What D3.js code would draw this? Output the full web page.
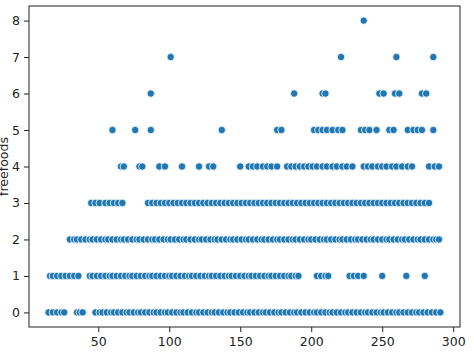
<!DOCTYPE html>
<html>
<head>
<meta charset="utf-8">
<script src="https://cdn.jsdelivr.net/npm/d3@7"></script>
<style>
  body { margin: 0; background: #fff; }
  svg { display: block; font-family: "DejaVu Sans", sans-serif; }
</style>
</head>
<body>
<div class="scatter-plot"></div>
<script>
// x values, one array per freefoods level
const level0X = [15, 18, 21, 24, 26, 35, 37, 39,
  48, 51, 53, 56, 59, 61, 64, 67, 70, 72, 75, 78, 80, 83, 86, 89, 91, 94, 97, 99, 102, 105, 108, 110,
  113, 116, 119, 121, 124, 127, 130, 132, 135, 138, 141, 143, 146, 149, 152, 155, 157, 160, 163, 166,
  168, 171, 174, 177, 179, 182, 185, 188, 190, 193, 196, 199, 202, 204, 207, 210, 213, 215, 218, 221,
  224, 226, 229, 232, 235, 238, 240, 243, 246, 249, 251, 254, 257, 260, 262, 265, 268, 271, 274, 276,
  279, 282, 285, 288, 291]
const level1X = [16, 18, 21, 24, 27, 30, 33, 36,
  44, 46, 49, 52, 55, 58, 60, 63, 66, 69, 72, 74, 77, 80, 83, 86, 88, 91, 94, 97, 100, 102, 105, 108,
  111, 114, 116, 119, 122, 125, 128, 130, 133, 136, 139, 142, 144, 147, 150, 153, 156, 158, 161, 164,
  167, 170, 172, 175, 178, 181, 184, 186, 189, 191,
  204, 207, 210, 212, 227, 230, 233, 237, 250, 267, 280]
const level2X = [30, 33, 35, 38, 41, 44, 46, 49, 52, 55, 57, 60, 63, 66, 68, 71, 74, 77, 79, 82, 85, 88,
  90, 93, 96, 99, 101, 104, 107, 110, 112, 115, 118, 121, 123, 126, 129, 132, 134, 137, 140, 143, 145,
  148, 151, 154, 156, 159, 162, 165, 167, 170, 173, 176, 178, 181, 184, 187, 189, 192, 195, 198, 200,
  203, 206, 209, 211, 214, 217, 220, 222, 225, 228, 231, 233, 236, 239, 242, 244, 247, 250, 253, 255,
  258, 261, 264, 266, 269, 272, 275, 277, 280, 283, 286, 288, 290]
const level3X = [45, 48, 51, 55, 58, 61, 64, 67,
  85, 88, 91, 94, 97, 100, 103, 106, 109, 112, 115, 118, 121, 124, 127, 130, 133, 136, 139, 142, 145,
  148, 151, 154, 157, 160, 163, 166, 169, 172, 175, 178, 181, 184, 187, 190, 193, 196, 199, 202, 205,
  208, 211, 214, 217, 220, 223, 226, 229, 232, 235, 238, 241, 244, 247, 250, 253, 256, 259, 262, 265,
  268, 271, 274, 277, 280, 283]
const level4X = [66, 68, 79, 81, 93, 97, 109, 121, 128, 131, 150, 156, 159, 162, 166, 169, 172, 176,
  183, 186, 189, 192, 195, 198, 201, 204, 208, 211, 215, 218, 222, 225, 229, 237, 240, 243, 247, 250,
  253, 257, 260, 264, 268, 271, 283, 287, 290]
const level5X = [60, 76, 87, 137, 176, 179, 202, 205, 208, 211, 215, 219, 222, 235, 238, 241, 246,
  255, 258, 268, 272, 275, 278, 286]
const level6X = [87, 188, 208, 210, 248, 251, 259, 262, 278, 281]
const level7X = [101, 221, 260, 286]
const level8X = [237]

const levelXs = [level0X, level1X, level2X, level3X, level4X, level5X, level6X, level7X, level8X]
const xTicks = [50, 100, 150, 200, 250, 300]
const yTicks = [0, 1, 2, 3, 4, 5, 6, 7, 8]
const yLabel = "freefoods"

const data = []
levelXs.forEach((xs, level) => xs.forEach(x => data.push({x: x, freefoods: level})))

function scatter(data){
  const svgWidth = 474,
        svgHeight = 353
  const plot = {left: 29, right: 460, top: 6, bottom: 327}

  const svg = d3.select(".scatter-plot")
                .append('svg')
                .attr('width', svgWidth)
                .attr('height', svgHeight)

  // matplotlib style 5% padding around the data
  const xExt = d3.extent(data, d => d.x)
  const xPad = (xExt[1] - xExt[0]) * 0.05
  const xScale = d3.scaleLinear()
                   .domain([xExt[0] - xPad, xExt[1] + xPad])
                   .range([plot.left, plot.right])
  const yExt = d3.extent(data, d => d.freefoods)
  const yPad = (yExt[1] - yExt[0]) * 0.05
  const yScale = d3.scaleLinear()
                   .domain([yExt[0] - yPad, yExt[1] + yPad])
                   .range([plot.bottom, plot.top])

  // points
  svg.append('g')
     .selectAll('circle')
     .data(data)
     .enter()
     .append('circle')
     .attr('cx', d => xScale(d.x))
     .attr('cy', d => yScale(d.freefoods))
     .attr('r', 3.7)
     .attr('fill', '#1f77b4')
     .attr('stroke', '#fff')
     .attr('stroke-width', 0.8)

  // axes
  const xAxis = svg.append('g')
     .attr('transform', `translate(0, ${plot.bottom})`)
     .call(d3.axisBottom(xScale).tickValues(xTicks).tickSize(5).tickPadding(5))
  const yAxis = svg.append('g')
     .attr('transform', `translate(${plot.left}, 0)`)
     .call(d3.axisLeft(yScale).tickValues(yTicks).tickSize(5).tickPadding(4))
  for (const ax of [xAxis, yAxis]) {
    ax.select('.domain').remove()
    ax.selectAll('text').attr('font-size', 12.5).attr('font-family', '"DejaVu Sans", sans-serif').attr('fill', '#222')
    ax.selectAll('line').attr('stroke', '#222')
  }

  // frame
  svg.append('rect')
     .attr('x', plot.left)
     .attr('y', plot.top)
     .attr('width', plot.right - plot.left)
     .attr('height', plot.bottom - plot.top)
     .attr('fill', 'none')
     .attr('stroke', '#222')
     .attr('stroke-width', 1)

  svg.append('text')
     .attr('transform', `translate(8, ${(plot.top + plot.bottom) / 2}) rotate(-90)`)
     .attr('text-anchor', 'middle')
     .attr('font-size', 12.5)
     .attr('fill', '#222')
     .text(yLabel)
}

scatter(data)
</script>
</body>
</html>
